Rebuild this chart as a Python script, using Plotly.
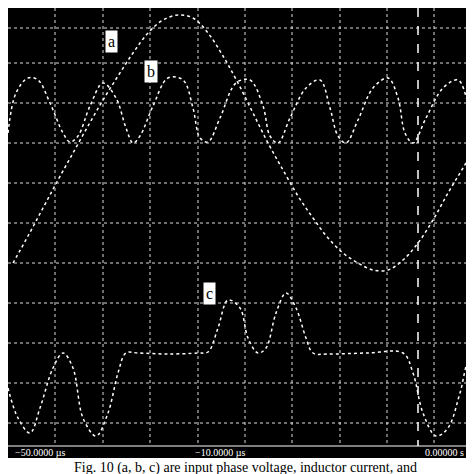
import plotly.graph_objects as go

# Trace a: input phase voltage (screen units, x time 0-474, y down)
a_x = [5, 20, 35, 50, 65, 80, 95, 110, 125, 140, 155, 170, 185, 200, 215, 230, 245, 260, 275, 290, 305, 320, 335, 350, 365, 380, 395, 410, 425, 440, 455, 470]
a_y = [255, 228, 200, 172, 145, 118, 92, 68, 45, 25, 12, 7, 10, 25, 48, 75, 105, 135, 162, 188, 210, 230, 245, 255, 262, 262, 252, 235, 212, 185, 160, 135]
# Trace b: inductor current
b_x = [0, 8, 20, 30, 42, 55, 62, 70, 82, 95, 108, 118, 125, 132, 145, 160, 175, 185, 192, 200, 212, 228, 242, 255, 262, 270, 282, 298, 312, 322, 330, 338, 350, 365, 380, 390, 397, 405, 418, 435, 450, 460, 468, 474]
b_y = [125, 85, 70, 72, 95, 125, 134, 128, 98, 75, 90, 120, 135, 128, 98, 70, 72, 100, 130, 134, 110, 75, 72, 98, 128, 135, 110, 80, 72, 100, 128, 135, 112, 80, 70, 90, 125, 135, 110, 80, 72, 95, 125, 135]
# Trace c: third waveform
c_x = [0, 10, 22, 32, 45, 55, 65, 75, 88, 100, 110, 118, 130, 160, 190, 200, 210, 220, 232, 240, 250, 258, 268, 278, 288, 298, 305, 320, 360, 395, 405, 415, 428, 440, 452, 462, 474]
c_y = [380, 410, 425, 400, 360, 345, 360, 410, 428, 405, 365, 345, 345, 346, 345, 344, 320, 292, 300, 330, 345, 340, 305, 285, 300, 330, 345, 346, 345, 345, 365, 405, 428, 420, 385, 350, 345]

grid_x = [47, 95, 142, 190, 237, 284, 332, 379, 426]
grid_y = [20, 55, 95, 135, 175, 215, 255, 295, 335, 375, 415]
tick_labels = ["−50.0000 µs", "−10.0000 µs", "0.00000 s"]
tick_pos = [5, 185, 415]

fig = go.Figure()
shapes = [dict(type="rect", x0=0, x1=474, y0=0, y1=450, fillcolor="black", line_width=0, layer="below")]
for gx in grid_x:
    shapes.append(dict(type="line", x0=gx, x1=gx, y0=0, y1=438, line=dict(color="#dddddd", width=1, dash="dot")))
for gy in grid_y:
    shapes.append(dict(type="line", x0=0, x1=474, y0=gy, y1=gy, line=dict(color="#dddddd", width=1, dash="dot")))
shapes.append(dict(type="line", x0=410, x1=410, y0=0, y1=438, line=dict(color="white", width=1.5, dash="dash")))
shapes.append(dict(type="line", x0=0, x1=474, y0=438, y1=438, line=dict(color="white", width=1)))

for xs, ys in [(a_x, a_y), (b_x, b_y), (c_x, c_y)]:
    fig.add_trace(go.Scatter(x=xs, y=ys, mode="lines", line=dict(color="white", width=1.5, shape="spline", dash="dot"), showlegend=False, hoverinfo="skip"))

ann = []
for txt, x, y in [("a", 103, 33), ("b", 143, 63), ("c", 201, 285)]:
    ann.append(dict(x=x, y=y, text=txt, showarrow=False, bgcolor="white", font=dict(family="Liberation Serif", size=16, color="black"), borderpad=2))
for t, p in zip(tick_labels, tick_pos):
    ann.append(dict(x=p, y=444, text=t, showarrow=False, xanchor="left", font=dict(family="Liberation Serif", size=10, color="white")))
ann.append(dict(x=237, y=460, text="Fig. 10 (a, b, c) are input phase voltage, inductor current, and", showarrow=False, yanchor="middle", font=dict(family="Liberation Serif", size=14, color="black")))

fig.update_layout(width=474, height=474, margin=dict(l=0, r=0, t=0, b=0), paper_bgcolor="white", plot_bgcolor="white",
                  shapes=shapes, annotations=ann,
                  xaxis=dict(range=[0, 474], visible=False, fixedrange=True),
                  yaxis=dict(range=[474, 0], visible=False, fixedrange=True))
fig.write_html("out.html")
